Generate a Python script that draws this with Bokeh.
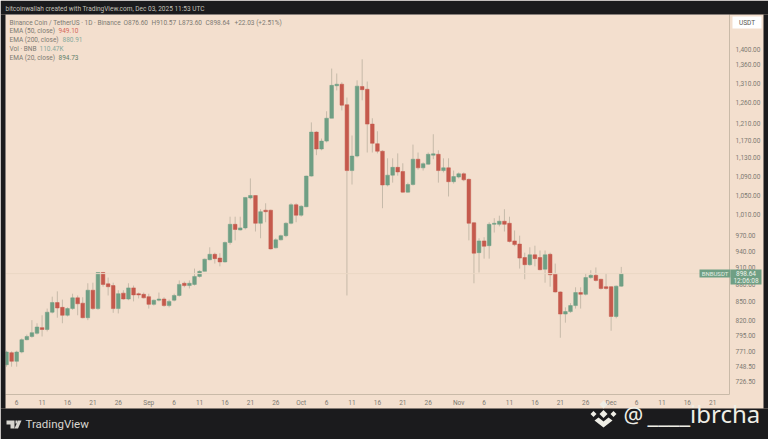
from bokeh.plotting import figure
from bokeh.models import (ColumnDataSource, FixedTicker, NumeralTickFormatter, Label,
                          Span, PolyAnnotation, Range1d)
from bokeh.embed import file_html
from bokeh.resources import INLINE

# Daily candles, 4 Aug - 3 Dec 2025 (index 0 = 4 Aug)
opens = [751,769,756,770,789,794,799,808,805,833,
         849,841,828,839,857,848,824,870,839,901,
         881,878,839,865,855,874,864,863,859,846,
         853,855,844,853,861,882,878,880,894,903,
         924,934,927,920,956,991,980,984,1044,1049,
         993,1019,1019,946,961,969,993,1030,1009,1026,
         1090,1189,1150,1168,1222,1303,1307,1255,1102,1134,
         1301,1294,1208,1162,1145,1071,1092,1109,1100,1056,
         1072,1127,1108,1116,1136,1138,1102,1108,1078,1088,
         1095,1083,994,937,959,950,991,991,997,993,
         959,953,928,915,933,928,907,934,898,867,
         830,834,844,866,863,892,896,889,876,876,
         826,877]
highs = [772,771,772,791,797,820,815,828,839,859,
         868,854,841,864,861,858,882,883,901,902,
         892,883,870,870,882,878,866,866,864,854,
         866,858,854,864,887,885,887,908,905,926,
         947,937,936,958,1006,1006,1006,1045,1085,1049,
         1021,1033,1020,964,971,995,1033,1033,1029,1091,
         1212,1191,1174,1239,1348,1335,1312,1273,1181,1317,
         1373,1314,1222,1191,1147,1129,1129,1140,1118,1076,
         1160,1142,1120,1142,1184,1147,1129,1129,1102,1098,
         1098,1085,995,964,966,995,1003,1008,1021,1006,
         979,969,937,947,950,941,941,937,917,868,
         841,848,875,875,899,905,910,890,899,877,
         878,911]
lows = [748,748,748,768,788,792,797,794,802,831,
        824,815,826,837,828,823,820,837,837,876,
        861,832,831,854,853,851,856,856,839,844,
        851,842,841,851,859,875,873,878,892,903,
        923,917,912,919,952,960,979,981,1041,977,
        964,995,943,945,960,966,991,995,1006,1025,
        1089,1136,1147,1165,1222,1291,1241,861,1072,1131,
        1266,1142,1142,1140,1023,1068,1076,1091,1055,1055,
        1070,1104,1102,1115,1127,1076,1098,1047,1074,1085,
        1079,960,882,901,926,926,975,987,977,956,
        949,908,889,913,912,905,883,876,866,792,
        816,832,839,839,861,890,885,871,871,803,
        823,876]
closes = [770,756,770,789,794,800,809,805,833,849,
          840,828,839,857,847,824,870,839,901,880,
          876,839,864,855,874,862,862,857,846,853,
          855,844,851,861,880,878,882,894,903,925,
          934,926,920,956,991,981,984,1045,1049,993,
          1016,1016,944,961,969,993,1030,1009,1027,1090,
          1189,1150,1168,1222,1304,1307,1254,1102,1134,1302,
          1293,1208,1163,1145,1071,1092,1109,1099,1056,1072,
          1127,1108,1117,1138,1139,1102,1108,1078,1089,1095,
          1082,993,936,959,949,991,993,997,991,958,
          952,927,915,933,926,906,933,897,867,830,
          834,844,866,863,892,896,887,873,873,826,
          877,899]
days = list(range(len(opens)))

price_ticks = [1400,1360,1310,1260,1210,1170,1130,1090,1050,1010,970,940,910,880,850,820,795,771,748.5,726.5]
date_ticks = [2,7,12,17,22,28,33,38,43,48,53,58,63,68,73,78,83,89,94,99,104,109,114,119,124,129,134,139]
date_labels = ["6","11","16","21","26","Sep","6","11","16","21","26","Oct","6","11","16","21","26","Nov",
               "6","11","16","21","26","Dec","6","11","16","21"]

BG = "#f3dfce"; DARK = "#1b1b1d"; GREEN = "#6f9f84"; RED = "#c5594c"; WICK = "#c6baa9"; TXT = "#7d7a72"; LINE = "#c9baa8"
FONT = "Roboto"
PAGE = {"position": "absolute", "left": "0", "top": "0"}

p = figure(width=768, height=439, output_backend="svg", toolbar_location=None, y_axis_type="log",
           x_range=Range1d(-0.2, 142.3), y_range=Range1d(708, 1500), y_axis_location="right",
           min_border_left=5, min_border_right=39, min_border_top=14, min_border_bottom=45,
           background_fill_color=BG, border_fill_color=BG, outline_line_color=None)
p.styles = PAGE
p.grid.visible = False

ya = p.yaxis[0]
ya.ticker = FixedTicker(ticks=price_ticks)
ya.formatter = NumeralTickFormatter(format="0,0.00")
ya.major_tick_line_color = None; ya.minor_tick_line_color = None
ya.major_tick_out = 0; ya.major_tick_in = 0
ya.axis_line_color = LINE
ya.major_label_text_font = FONT; ya.major_label_text_font_size = "6.5px"; ya.major_label_text_color = TXT
ya.major_label_standoff = 6

xa = p.xaxis[0]
xa.ticker = FixedTicker(ticks=date_ticks)
xa.major_label_overrides = dict(zip(date_ticks, date_labels))
xa.major_tick_line_color = None; xa.minor_tick_line_color = None
xa.major_tick_out = 0; xa.major_tick_in = 0
xa.axis_line_color = LINE
xa.major_label_text_font = FONT; xa.major_label_text_font_size = "6.5px"; xa.major_label_text_color = TXT
xa.major_label_standoff = 4

p.add_layout(Span(location=closes[-1], dimension="width", line_color="#ead7c4", line_width=1))

up = [c >= o for o, c in zip(opens, closes)]
src = ColumnDataSource(dict(x=days, o=opens, h=highs, l=lows, c=closes,
                            top=[max(a, b) for a, b in zip(opens, closes)],
                            bot=[min(a, b) for a, b in zip(opens, closes)],
                            col=[GREEN if u else RED for u in up]))
p.segment("x", "h", "x", "l", source=src, line_color=WICK, line_width=1)
p.vbar("x", 0.72, "bot", "top", source=src, fill_color="col", line_color="col", line_width=0.5)

# transparent sheet over the chart: dark frame, headers, badges, watermark
f = figure(width=768, height=439, output_backend="svg", toolbar_location=None,
           x_range=Range1d(0, 768), y_range=Range1d(439, 0), x_axis_location=None, y_axis_location=None,
           min_border=0, background_fill_alpha=0, border_fill_alpha=0, outline_line_color=None)
f.styles = PAGE
f.grid.visible = False


def L(x, y, text, color=TXT, size=6.5, align="left", font=FONT, style="normal"):
    f.add_layout(Label(x=x, y=y, x_units="canvas", y_units="canvas", text=text, text_color=color,
                       text_font_size=f"{size}px", text_font=font, text_align=align, text_baseline="middle",
                       text_font_style=style))


def poly(xs, ys, color):
    f.add_layout(PolyAnnotation(xs=xs, ys=ys, xs_units="canvas", ys_units="canvas", fill_color=color, fill_alpha=1,
                                line_color=None))


poly([0, 768, 768, 0], [0, 0, 14, 14], DARK)
poly([0, 768, 768, 0], [408, 408, 439, 439], DARK)
poly([0, 5, 5, 0], [14, 14, 408, 408], DARK)
poly([763, 768, 768, 763], [14, 14, 408, 408], DARK)

L(5, 8, "bitcoinwallah created with TradingView.com, Dec 03, 2025 11:53 UTC", "#c4c1ba", 6.5)
L(9, 22, "Binance Coin / TetherUS · 1D · Binance")
L(123, 22, "O876.60"); L(151, 22, "H910.57"); L(178, 22, "L873.60"); L(205, 22, "C898.64"); L(234, 22, "+22.03 (+2.51%)")
L(9, 30, "EMA (50, close)"); L(58, 30, "949.10", "#d5685b")
L(9, 39, "EMA (200, close)"); L(62, 39, "880.91", "#86a99c")
L(9, 48, "Vol · BNB"); L(39, 48, "110.47K", "#86a99c")
L(9, 57, "EMA (20, close)"); L(58, 57, "894.73", "#5f7f6b")

poly([732, 761, 761, 732], [16, 16, 28, 28], "#ffffff")
L(746.5, 22, "USDT", "#55564f", 6.5, "center")

poly([699, 730, 730, 699], [269, 269, 277, 277], GREEN)
poly([730, 761, 761, 730], [269, 269, 284, 284], GREEN)
L(714.5, 273, "BNBUSDT", "#e4ece2", 6, "center")
L(745.5, 273, "898.64", "#f0f3ea", 6.5, "center")
L(745.5, 280, "12:06:08", "#f0f3ea", 6.5, "center")

# TradingView mark and name
poly([6, 14, 14, 10, 10, 6], [420, 420, 428, 428, 424, 424], "#d8d6d0")
poly([15, 17, 17, 15], [420, 420, 423, 423], "#d8d6d0")
poly([17.5, 21, 17.5, 14], [420, 420, 428, 428], "#d8d6d0")
L(25, 423.5, "TradingView", "#d8d6d0", 11.5, font="Roboto")

# Binance watermark
W = "#efeee6"
poly([603, 607, 603, 599], [400, 404, 408, 404], W)
poly([603, 607, 603, 599], [409.5, 413.5, 417.5, 413.5], W)
poly([593, 596, 593, 590], [410.5, 413.5, 416.5, 413.5], W)
poly([613, 616, 613, 610], [410.5, 413.5, 416.5, 413.5], W)
poly([598, 603, 608, 612, 603, 594], [417, 421, 417, 420, 427, 420], W)
L(623, 413, "@", W, 22, font="Noto Sans")
L(647, 413, "____ibrcha", W, 24, font="Noto Sans")

open("out.html", "w").write(file_html([p, f], INLINE))
